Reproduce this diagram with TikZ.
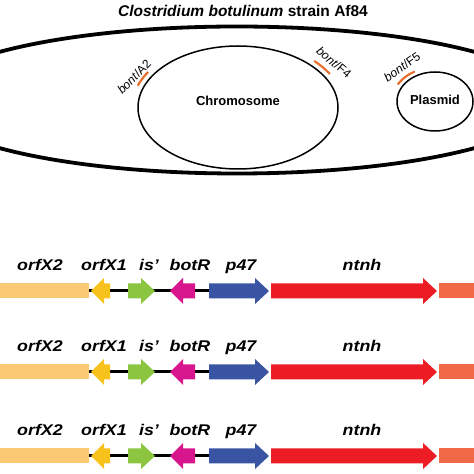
\documentclass[tikz,border=0pt]{standalone}
\usepackage{fontspec}
\setmainfont{Liberation Sans}
\usetikzlibrary{calc}
\definecolor{orfxtwo}{HTML}{FBC874}
\definecolor{orfxone}{HTML}{F6C21B}
\definecolor{isgreen}{HTML}{8CC540}
\definecolor{botr}{HTML}{D7168D}
\definecolor{pblue}{HTML}{3A54A4}
\definecolor{ntnhred}{HTML}{EC1C24}
\definecolor{hared}{HTML}{F06A48}
\definecolor{bontor}{HTML}{E8702E}
% gene arrows: color, start, end, y
\newcommand{\geneR}[4]{\fill[#1] (#2,#4-7.5) -- (#3-14,#4-7.5) -- (#3-14,#4-13) -- (#3,#4) -- (#3-14,#4+13) -- (#3-14,#4+7.5) -- (#2,#4+7.5) -- cycle;}
\newcommand{\geneL}[4]{\fill[#1] (#3,#4-7.5) -- (#2+13,#4-7.5) -- (#2+13,#4-13) -- (#2,#4) -- (#2+13,#4+13) -- (#2+13,#4+7.5) -- (#3,#4+7.5) -- cycle;}
\tikzset{
  genelabel/.style={anchor=base, xscale=1.15, font=\fontsize{15.5}{16}\selectfont\bfseries\itshape},
  bontlabel/.style={inner sep=1pt, font=\fontsize{12}{12}\selectfont},
  bontarc/.style={bontor, line width=2.2pt},
}
\begin{document}
\begin{tikzpicture}[x=1pt,y=1pt]
\useasboundingbox (0,0) rectangle (474,474);
\clip (0,0) rectangle (474,474);
% the cell
\node[anchor=base, font=\fontsize{15.5}{16}\selectfont\bfseries] (title) at (243,457) {\textit{Clostridium botulinum} strain Af84};
\draw[line width=3.8pt] (237,374) ellipse [x radius=314pt, y radius=73.5pt];
\draw[line width=1.5pt] (238,366.5) ellipse [x radius=100pt, y radius=61.5pt];
\draw[line width=1.5pt] (435,372.5) ellipse [x radius=38pt, y radius=29.5pt];
\node[anchor=base, font=\fontsize{13}{14}\selectfont\bfseries] (chrom) at (238,368) {Chromosome};
\node[anchor=base, font=\fontsize{13}{14}\selectfont\bfseries] (plasmid) at (435,369) {Plasmid};
% toxin loci
\draw[bontarc] ($(238,366.5)+(148:106pt and 67pt)$) arc[start angle=148, end angle=161, x radius=106pt, y radius=67pt];
\draw[bontarc] ($(238,366.5)+(30:106pt and 67pt)$) arc[start angle=30, end angle=44, x radius=106pt, y radius=67pt];
\draw[bontarc] ($(435,372.5)+(118:43pt and 34pt)$) arc[start angle=118, end angle=150, x radius=43pt, y radius=34pt];
\node[bontlabel, rotate=45] (a2) at (134,397) {\textit{bont}/A2};
\node[bontlabel, rotate=-40] (f4) at (334,411.5) {\textit{bont}/F4};
\node[bontlabel, rotate=35] (f5) at (402,407) {\textit{bont}/F5};
% the three clusters
\foreach \y [count=\i] in {183,102,18} {
  \fill[orfxtwo] (0,\y-7.5) rectangle (89,\y+7.5);
  \draw[line width=3pt] (89,\y) -- (209,\y);
  \geneL{orfxone}{91}{110}{\y}
  \geneR{isgreen}{128}{155}{\y}
  \geneL{botr}{170}{195}{\y}
  \geneR{pblue}{209}{269}{\y}
  \geneR{ntnhred}{271}{437}{\y}
  \fill[hared] (439,\y-7.5) rectangle (474,\y+7.5);
  \node[genelabel] (orfxtwo-\i) at (40,\y+20) {orfX2};
  \node[genelabel] (orfxone-\i) at (104,\y+20) {orfX1};
  \node[genelabel] (is-\i) at (149,\y+20) {is’};
  \node[genelabel] (botr-\i) at (190,\y+20) {botR};
  \node[genelabel] (pf-\i) at (241,\y+20) {p47};
  \node[genelabel] (ntnh-\i) at (362,\y+20) {ntnh};
}
\end{tikzpicture}
\end{document}
